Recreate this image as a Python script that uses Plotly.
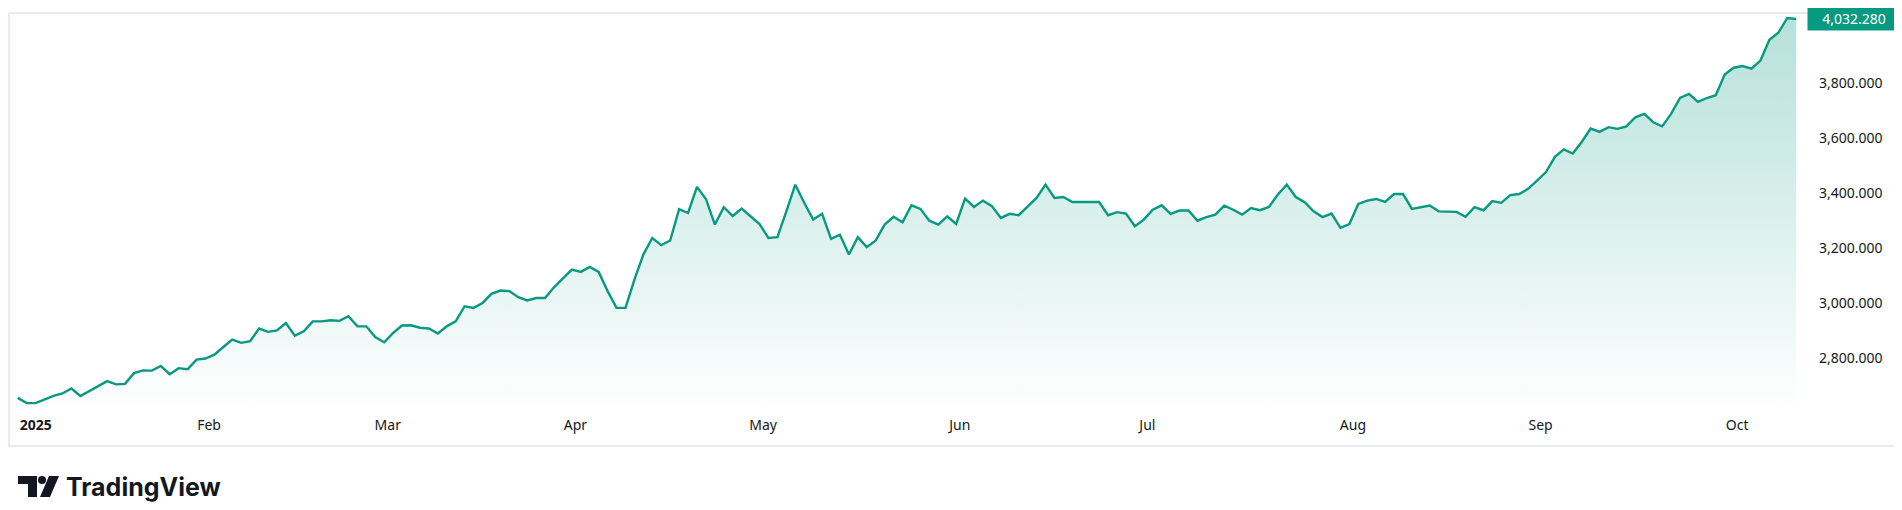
import pandas as pd
import plotly.graph_objects as go

# daily closes (business days from 2 Jan 2025)
values_q1 = [2655, 2636, 2636, 2649, 2662, 2671, 2689, 2662, 2680, 2698, 2716, 2704, 2706,
             2745, 2755, 2754, 2771, 2741, 2763, 2759, 2794, 2798, 2812, 2840, 2867, 2855,
             2861, 2907, 2895, 2900, 2927, 2881, 2897, 2933, 2933, 2937, 2935, 2952, 2915,
             2915, 2876, 2857, 2891, 2918, 2919, 2910, 2907, 2889, 2915, 2933, 2988, 2982,
             3000, 3033, 3045, 3043, 3021, 3009, 3018, 3018, 3057, 3089, 3121, 3113, 3131, 3113]
values_q2 = [3043, 2982, 2982, 3085, 3176, 3236, 3210, 3227, 3341, 3327, 3422, 3378, 3285,
             3348, 3316, 3343, 3315, 3287, 3236, 3239, 3333, 3430, 3364, 3303, 3324, 3233,
             3248, 3176, 3239, 3203, 3227, 3285, 3313, 3293, 3355, 3342, 3299, 3285, 3315,
             3287, 3379, 3349, 3372, 3352, 3309, 3324, 3319, 3349, 3382, 3430, 3382, 3385,
             3367, 3367, 3367, 3367, 3319, 3330, 3325]
values_q3 = [3279, 3303, 3339, 3355, 3324, 3336, 3336, 3299, 3312, 3321, 3354, 3339, 3321,
             3345, 3337, 3349, 3394, 3430, 3385, 3366, 3333, 3312, 3325, 3273, 3287, 3360,
             3372, 3378, 3367, 3396, 3396, 3342, 3348, 3354, 3333, 3333, 3331, 3313, 3348,
             3337, 3370, 3364, 3392, 3396, 3415, 3445, 3476, 3531, 3558, 3543, 3585, 3634,
             3622, 3639, 3633, 3642, 3675, 3687, 3657, 3642, 3687, 3745, 3760, 3731, 3745,
             3755, 3830, 3855, 3861, 3852, 3881, 3957, 3982, 4036, 4032.28]
values = values_q1 + values_q2 + values_q3
# trading days (Good Friday dropped); the chart spaces bars evenly like TradingView
dates = pd.bdate_range("2025-01-02", "2025-10-31")
dates = dates[dates != pd.Timestamp("2025-04-18")][:len(values)]
bars = list(range(len(values)))
last_price = 4032.28

month_names = ["2025", "Feb", "Mar", "Apr", "May", "Jun", "Jul", "Aug", "Sep", "Oct"]
y_ticks = [2800, 3000, 3200, 3400, 3600, 3800]

# month labels sit on the boundary before the first bar of each month
tick_vals, tick_text = [], []
for m, name in enumerate(month_names, start=1):
    idx = [i for i, d in enumerate(dates) if d.month == m][0]
    if m == 1:
        tick_vals.append(idx + 2)  # year label sits just inside the left edge
        tick_text.append("<b>2025</b>")
    else:
        tick_vals.append(idx - 0.6)
        tick_text.append(name)

W, H = 1902, 510
L, R, T, B = 8, 112, 5, 105
PW, PH = W - L - R, H - T - B
GREEN = "#089981"


def px(x):
    return (x - L) / PW


def py(y):
    return 1 - (y - T) / PH


fig = go.Figure()
fig.add_trace(go.Scatter(
    x=bars, y=values, mode="lines",
    line=dict(color=GREEN, width=2.4),
    fill="tozeroy",
    fillgradient=dict(type="vertical", start=2600, stop=4054,
                      colorscale=[[0, "rgba(8,153,129,0)"], [1, "rgba(8,153,129,0.30)"]]),
    hoverinfo="skip", showlegend=False,
))

shapes = [
    # outer frame
    dict(type="rect", xref="paper", yref="paper", x0=px(1), x1=px(1899), y0=py(5), y1=py(438),
         line=dict(color="#e0e3eb", width=1.5), layer="below"),
    # logo pieces
    dict(type="path", xref="paper", yref="paper",
         path=f"M {px(10)},{py(468)} L {px(29)},{py(468)} L {px(29)},{py(489)} L {px(20)},{py(489)} "
              f"L {px(20)},{py(476)} L {px(10)},{py(476)} Z",
         fillcolor="#131722", line=dict(width=0)),
    dict(type="circle", xref="paper", yref="paper", x0=px(30), x1=px(38), y0=py(468), y1=py(476),
         fillcolor="#131722", line=dict(width=0)),
    dict(type="path", xref="paper", yref="paper",
         path=f"M {px(41)},{py(468)} L {px(51)},{py(468)} L {px(42)},{py(489)} L {px(32)},{py(489)} Z",
         fillcolor="#131722", line=dict(width=0)),
]

annotations = [
    dict(xref="paper", yref="y", x=1, y=last_price, xanchor="left", yanchor="middle",
         xshift=9, text=f"{last_price:,.3f}", showarrow=False,
         font=dict(color="white", size=14, family="Noto Sans"),
         bgcolor=GREEN, borderpad=2, width=88),
    dict(xref="paper", yref="paper", x=px(56), y=py(479), xanchor="left", yanchor="middle",
         text="<b>TradingView</b>", showarrow=False,
         font=dict(color="#131722", size=25, family="Inter")),
]

fig.update_layout(
    width=W, height=H, margin=dict(l=L, r=R, t=T, b=B),
    paper_bgcolor="white", plot_bgcolor="white",
    font=dict(family="Noto Sans", size=14, color="#131722"),
    shapes=shapes, annotations=annotations,
    xaxis=dict(range=[-0.2, len(values) - 0.8], tickvals=tick_vals, ticktext=tick_text,
               showgrid=False, zeroline=False, showline=False, ticks="", ticklabelstandoff=2),
    yaxis=dict(side="right", range=[2600, 4054], tickvals=y_ticks, tickformat=",.3f",
               showgrid=False, zeroline=False, showline=False, ticks="", ticklabelstandoff=20),
)

fig.write_html("out.html")
